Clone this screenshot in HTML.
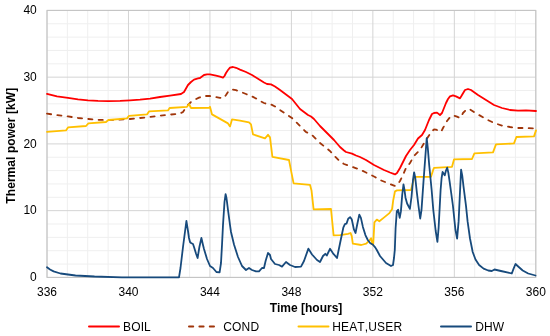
<!DOCTYPE html>
<html><head><meta charset="utf-8"><title>Thermal power chart</title>
<style>
html,body{margin:0;padding:0;background:#fff;}
svg{display:block;font-family:"Liberation Sans",Arial,sans-serif;font-size:12px;fill:#000;font-kerning:none;}
</style></head><body>
<svg width="550" height="336" viewBox="0 0 550 336">
<rect width="550" height="336" fill="#fff"/>
<g stroke-width="1" shape-rendering="auto">
<line x1="67.37" y1="10.4" x2="67.37" y2="277.4" stroke="#efefef"/>
<line x1="87.73" y1="10.4" x2="87.73" y2="277.4" stroke="#efefef"/>
<line x1="108.10" y1="10.4" x2="108.10" y2="277.4" stroke="#efefef"/>
<line x1="148.83" y1="10.4" x2="148.83" y2="277.4" stroke="#efefef"/>
<line x1="169.20" y1="10.4" x2="169.20" y2="277.4" stroke="#efefef"/>
<line x1="189.57" y1="10.4" x2="189.57" y2="277.4" stroke="#efefef"/>
<line x1="230.30" y1="10.4" x2="230.30" y2="277.4" stroke="#efefef"/>
<line x1="250.67" y1="10.4" x2="250.67" y2="277.4" stroke="#efefef"/>
<line x1="271.03" y1="10.4" x2="271.03" y2="277.4" stroke="#efefef"/>
<line x1="311.77" y1="10.4" x2="311.77" y2="277.4" stroke="#efefef"/>
<line x1="332.13" y1="10.4" x2="332.13" y2="277.4" stroke="#efefef"/>
<line x1="352.50" y1="10.4" x2="352.50" y2="277.4" stroke="#efefef"/>
<line x1="393.23" y1="10.4" x2="393.23" y2="277.4" stroke="#efefef"/>
<line x1="413.60" y1="10.4" x2="413.60" y2="277.4" stroke="#efefef"/>
<line x1="433.97" y1="10.4" x2="433.97" y2="277.4" stroke="#efefef"/>
<line x1="474.70" y1="10.4" x2="474.70" y2="277.4" stroke="#efefef"/>
<line x1="495.07" y1="10.4" x2="495.07" y2="277.4" stroke="#efefef"/>
<line x1="515.43" y1="10.4" x2="515.43" y2="277.4" stroke="#efefef"/>
<line x1="47.0" y1="23.75" x2="535.8" y2="23.75" stroke="#efefef"/>
<line x1="47.0" y1="37.10" x2="535.8" y2="37.10" stroke="#efefef"/>
<line x1="47.0" y1="50.45" x2="535.8" y2="50.45" stroke="#efefef"/>
<line x1="47.0" y1="63.80" x2="535.8" y2="63.80" stroke="#efefef"/>
<line x1="47.0" y1="90.50" x2="535.8" y2="90.50" stroke="#efefef"/>
<line x1="47.0" y1="103.85" x2="535.8" y2="103.85" stroke="#efefef"/>
<line x1="47.0" y1="117.20" x2="535.8" y2="117.20" stroke="#efefef"/>
<line x1="47.0" y1="130.55" x2="535.8" y2="130.55" stroke="#efefef"/>
<line x1="47.0" y1="157.25" x2="535.8" y2="157.25" stroke="#efefef"/>
<line x1="47.0" y1="170.60" x2="535.8" y2="170.60" stroke="#efefef"/>
<line x1="47.0" y1="183.95" x2="535.8" y2="183.95" stroke="#efefef"/>
<line x1="47.0" y1="197.30" x2="535.8" y2="197.30" stroke="#efefef"/>
<line x1="47.0" y1="224.00" x2="535.8" y2="224.00" stroke="#efefef"/>
<line x1="47.0" y1="237.35" x2="535.8" y2="237.35" stroke="#efefef"/>
<line x1="47.0" y1="250.70" x2="535.8" y2="250.70" stroke="#efefef"/>
<line x1="47.0" y1="264.05" x2="535.8" y2="264.05" stroke="#efefef"/>
<line x1="47.00" y1="10.4" x2="47.00" y2="277.4" stroke="#d4d4d4"/>
<line x1="128.47" y1="10.4" x2="128.47" y2="277.4" stroke="#d4d4d4"/>
<line x1="209.93" y1="10.4" x2="209.93" y2="277.4" stroke="#d4d4d4"/>
<line x1="291.40" y1="10.4" x2="291.40" y2="277.4" stroke="#d4d4d4"/>
<line x1="372.87" y1="10.4" x2="372.87" y2="277.4" stroke="#d4d4d4"/>
<line x1="454.33" y1="10.4" x2="454.33" y2="277.4" stroke="#d4d4d4"/>
<line x1="535.80" y1="10.4" x2="535.80" y2="277.4" stroke="#d4d4d4"/>
<line x1="47.0" y1="10.40" x2="535.8" y2="10.40" stroke="#d4d4d4"/>
<line x1="47.0" y1="77.15" x2="535.8" y2="77.15" stroke="#d4d4d4"/>
<line x1="47.0" y1="143.90" x2="535.8" y2="143.90" stroke="#d4d4d4"/>
<line x1="47.0" y1="210.65" x2="535.8" y2="210.65" stroke="#d4d4d4"/>
<line x1="47.0" y1="277.40" x2="535.8" y2="277.40" stroke="#d4d4d4"/>
</g>
<rect x="47.0" y="10.4" width="488.79999999999995" height="267.0" fill="none" stroke="#c4c4c4" stroke-width="1"/>
<g fill="none" stroke-linejoin="round" stroke-linecap="round" stroke-width="1.8">
<polyline stroke="#ff0000" points="47,93.9 57,96.3 68,97.9 78,99.3 88,100.3 98,100.9 108,101.1 120,100.8 130,100.3 140,99.7 150,98.6 160,97 170,95.6 181,94 184,92 188,85 191,82 194,79.6 198,78.4 200,78 204,75 207,74.4 210,74.4 216,75.6 220,76.6 223,77.6 224.5,76 226,73 228,70 230,67.6 233,67 236,67.8 240,69.6 246,72 252,75 256,77.5 260,80 264,82.5 267,84 271,84.4 275,86.5 280,90 286,94.5 292,99 296,104 300,109 304,112 308,115 311,116.5 314,119 320,126 325,131 330,136 334,140 340,147 344,150.5 346,152 352,153.6 356,155.5 360,157 366,160 374,165 384,170 390,172.5 395,174.4 397,173 400,168 403,162 406,156 410,150 414,145 418,138.5 422,135 425,130 427,125 429,120 432,114 434,113 437,112.6 440,115 442,113 444,108 446,103 448,99 450,96.4 453,95.4 456,96.4 460,98.4 462,95 465,90 468,89 471,90 478,95 486,100 494,105 502,108 510,110 518,110.6 526,110.4 536,111"/>
<polyline stroke="#a0350a" stroke-dasharray="4.2 6.2" points="47,113.6 57,115.2 68,116.4 78,118 88,119 98,119.8 108,120 120,119.6 130,119 140,118 150,117 160,115.6 170,114.6 180,113.6 183,112 185,109 188,105 191,102 194,100 199,97.6 204,96 210,96 216,97 220,97.8 223,98.4 224.5,97 226,95 228,92 230,90 233,89.6 236,90.2 240,91.6 246,94 252,96.4 256,98.5 260,101 264,103 267,104 271,104.4 275,106.5 280,110 286,114 292,118 296,122 300,126 306,132 309,133.5 312,135 316,139 320,143 325,147 330,151 335,156.5 340,161.5 344,164 350,166 355,167.8 360,169.6 365,172 370,174.5 375,177 380,180 385,182 390,184 395,186 398,184 400,181 402,177 406,168 410,163 414,156 420,150 426,140 429,135.5 432,131 434,129.5 436,129.6 438,130.5 440,132 441.5,131 443,128 447,121 451,116 454,115.6 457,116.6 460,118 461.5,116 463,113 467,109 470,109.4 474,112 478,114.4 486,119 494,123 502,125.6 510,127 518,128 526,128 536,128.4"/>
<polyline stroke="#ffc000" points="47,131.8 66,130.4 68,127.4 86,126 88.4,123.4 106,122 108.4,120 127,118.4 129,115.8 147,114.4 149,111.4 168,110.4 169.6,108 187,106.8 189,104 191,108 209,107.8 210,106.8 212,114.4 220,118.9 228,123.4 230,126.4 232,119.4 240,120.6 249,122.4 251,124.4 253,134.4 265,138.4 268,134.8 270,137.4 272.4,156.8 289,160 291,170.4 293.6,183.4 310,184.8 311.5,190.4 313.6,209.4 331,209 333.6,235.4 340,235.2 348,233.9 350.6,233 351.8,236.4 352.8,243.7 361.3,245 366.2,243.7 369.5,240.4 371.1,238.3 372.4,244.5 373.2,244.5 374.4,222.4 376.8,219.6 379.3,221.3 384.2,217.4 389.1,213.4 392,209.3 393.2,200.4 395,191.4 397,190.4 411,190 414,178.4 416,176.8 431,176.8 433,170.4 434,167.8 452,166.8 454,159.4 472,159 474.4,153.4 493,152.4 496,144.4 514,143.4 516.4,137 534,136.4 536,130.4"/>
<polyline stroke="#174a7c" points="47,267.3 50,269.5 53.6,271.4 60.5,273.5 75.5,275.5 94.5,276.5 121.8,277.3 150,277.4 179,277.4 180.5,268 183,247 186.4,221 188,231 189,238 190,242 191,243 193,244 194,247 196,253.5 197.6,258 199.4,247 201.4,238 203,245 204,249 207,259 210,266 213,268 216.4,272 219.6,272.4 221,263 222,245 223,225 224.5,202 225.6,194.1 226.5,198 228,210 230,225 231,232 234,244.5 238,257 242,266 246,270 249,268 252,270 256,271.4 259,271.4 262,268 264,268 265.6,261 268,253 270,255 271,259 275,264 279,265 282,266.6 286,262 290,265 295,267 301,266.6 304,261 308.4,248.6 312,254.5 317,260 320,262 323,256 325.3,253.8 326.8,255.5 330,248.8 333,253.3 337,258 340,243.5 343.3,227.7 344.9,224.1 346.5,223.6 348.2,218.7 350.1,217.1 351.8,219.5 353.9,229.4 355.5,233 357.2,224.5 359.3,214.6 360.9,217.9 362.9,226.9 365.4,235.1 367.8,240 370.3,243.3 372.7,244.5 375.2,247.4 376.8,250 380,256 386,263 391,266 393,265 394,258 394.8,250 395.6,228 396.8,211.4 398.1,209.7 399.7,217.9 400.9,211.4 402.2,195 403.5,184.3 404.5,190 405.5,197.7 407.1,203.5 409.9,208.9 411.5,197 413,180 414.1,172.3 415.3,178 416.9,192.8 418.5,206 420.2,218.5 421.5,210 423.5,181.4 425.1,160 426.7,138.2 427.8,148 429.2,165 431.6,189.5 433.3,210 435.7,231 437.4,241.8 438.6,228 440.6,190 441.6,178 442.6,172 443.6,173.5 444.7,175.4 446,170.5 447.2,167.7 448.3,172.5 449.6,181.4 451.2,193 452.9,205.5 455.4,229.5 457.1,238.6 458.6,221.4 459.8,196 461.1,169.6 462.3,176 463.5,186.3 466,205.9 467.6,221.4 470,238.5 472.7,252 475.5,259.5 479.1,265 483.6,268.6 488.2,270.5 491.8,271 494.5,269.5 500.9,271 508.2,272.6 511.8,273.5 513.6,268.6 515.5,264 518.2,266.5 522.7,270.5 528.2,273.5 535.5,275.5"/>
</g>
<g>
<text x="47.00" y="296.2" text-anchor="middle">336</text>
<text x="128.47" y="296.2" text-anchor="middle">340</text>
<text x="209.93" y="296.2" text-anchor="middle">344</text>
<text x="291.40" y="296.2" text-anchor="middle">348</text>
<text x="372.87" y="296.2" text-anchor="middle">352</text>
<text x="454.33" y="296.2" text-anchor="middle">356</text>
<text x="535.80" y="296.2" text-anchor="middle">360</text>
<text x="36.8" y="14.20" text-anchor="end">40</text>
<text x="36.8" y="80.95" text-anchor="end">30</text>
<text x="36.8" y="147.70" text-anchor="end">20</text>
<text x="36.8" y="214.45" text-anchor="end">10</text>
<text x="36.8" y="281.20" text-anchor="end">0</text>
</g>
<text x="306" y="311.6" text-anchor="middle" font-weight="bold">Time [hours]</text>
<text transform="translate(15.4,145.7) rotate(-90)" text-anchor="middle" font-weight="bold" letter-spacing="0.07">Thermal power [kW]</text>
<g fill="none" stroke-width="2" stroke-linecap="round">
<line x1="89" y1="326.6" x2="119" y2="326.6" stroke="#ff0000"/>
<line x1="189" y1="326.6" x2="215" y2="326.6" stroke="#a0350a" stroke-dasharray="4.2 6.2"/>
<line x1="298.5" y1="326.6" x2="328.5" y2="326.6" stroke="#ffc000"/>
<line x1="441" y1="326.6" x2="471" y2="326.6" stroke="#174a7c"/>
</g>
<g letter-spacing="0.15">
<text x="123" y="330.8">BOIL</text>
<text x="223.3" y="330.8">COND</text>
<text x="332.2" y="330.8">HEAT,USER</text>
<text x="475.2" y="330.8">DHW</text>
</g>
</svg>
</body></html>
